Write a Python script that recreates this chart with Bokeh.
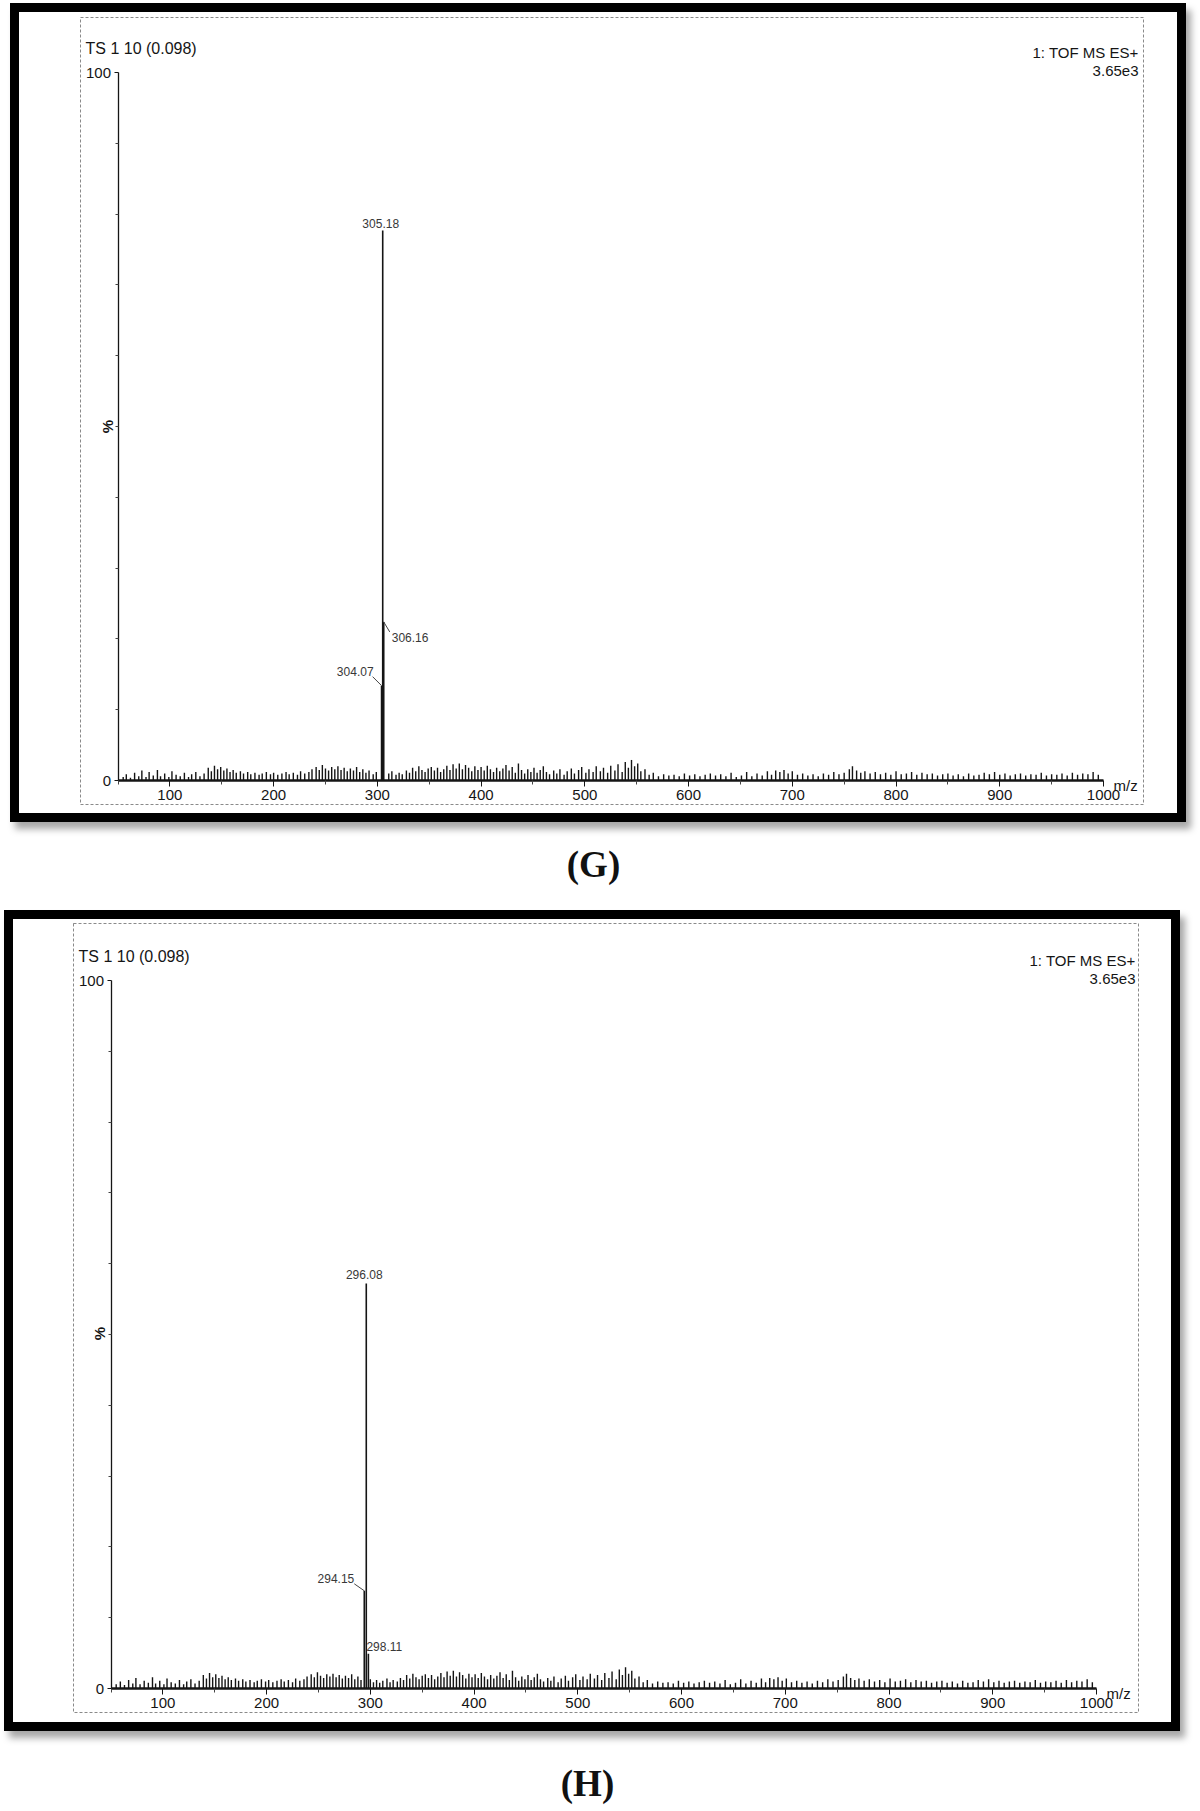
import math
from bokeh.plotting import figure
from bokeh.models import Range1d, FixedTicker, Label, Spacer
from bokeh.layouts import column, row
from bokeh.embed import file_html
from bokeh.resources import INLINE

# ---------------- data ----------------
ticks_x = [100, 200, 300, 400, 500, 600, 700, 800, 900, 1000]
minor_x = [50, 150, 250, 350, 450, 550, 650, 750, 850, 950]
ticks_y = [0, 100]
minor_y = [10, 20, 30, 40, 50, 60, 70, 80, 90]
x_bounds = (50, 1000)
y_bounds = (0, 100)

header_left = "TS 1 10 (0.098)"
header_right_1 = "1: TOF MS ES+"
header_right_2 = "3.65e3"
x_title = "m/z"
y_title = "%"

g_peak_mz = [304.07, 305.18, 306.16]
g_peak_int = [13.4, 77.7, 22.4]
g_peak_lab = ["304.07", "305.18", "306.16"]

h_peak_mz = [294.15, 296.08, 298.11]
h_peak_int = [13.8, 57.2, 4.9]
h_peak_lab = ["294.15", "296.08", "298.11"]

g_noise = [
    (55, 0.5), (58, 0.9), (62, 0.4), (66, 1.1), (70, 0.6), (73, 1.4), (77, 0.5), (80, 1.2),
    (84, 0.7), (88, 1.5), (91, 0.6), (95, 1.0), (99, 0.5), (102, 1.3), (106, 0.8), (110, 0.6),
    (114, 1.1), (118, 0.5), (121, 0.9), (125, 1.2), (129, 0.6), (133, 1.0), (137, 1.8), (140, 1.3),
    (143, 2.1), (146, 1.6), (149, 1.9), (152, 1.4), (155, 1.7), (158, 1.2), (161, 1.5), (164, 1.1),
    (168, 1.3), (171, 1.0), (175, 1.2), (178, 0.9), (182, 1.1), (186, 0.8), (189, 1.0), (193, 1.2),
    (197, 0.9), (200, 1.1), (204, 0.8), (208, 1.0), (212, 1.2), (215, 0.9), (219, 1.1), (223, 0.8),
    (226, 1.3), (230, 1.0), (234, 1.2), (237, 1.6), (241, 1.9), (244, 1.5), (247, 2.2), (250, 1.7),
    (253, 1.4), (256, 1.9), (259, 1.6), (262, 2.0), (265, 1.5), (268, 1.8), (271, 1.3), (274, 1.7),
    (277, 1.4), (280, 1.9), (283, 1.2), (286, 1.6), (289, 1.1), (292, 1.4), (296, 0.9), (299, 1.2),
    (311, 1.0), (314, 1.3), (318, 0.8), (321, 1.1), (324, 0.9), (328, 1.4), (331, 1.1), (334, 1.8),
    (337, 1.3), (340, 2.0), (343, 1.5), (346, 1.2), (349, 1.7), (352, 1.9), (355, 1.4), (358, 1.8),
    (361, 1.2), (364, 1.6), (367, 2.1), (370, 1.5), (373, 2.3), (376, 1.7), (379, 2.4), (382, 1.6),
    (385, 2.2), (388, 1.8), (391, 1.3), (394, 2.0), (397, 1.5), (400, 1.9), (403, 1.4), (406, 2.1),
    (409, 1.6), (412, 1.2), (415, 1.8), (418, 1.3), (421, 1.7), (424, 2.2), (427, 1.4), (430, 1.9),
    (433, 1.1), (436, 2.4), (439, 1.5), (442, 1.0), (445, 1.6), (448, 1.2), (451, 1.8), (454, 1.1),
    (457, 1.5), (460, 2.0), (463, 1.2), (466, 0.9), (470, 1.4), (473, 1.0), (476, 1.6), (480, 0.8),
    (483, 1.3), (487, 1.7), (490, 1.0), (494, 1.5), (497, 1.9), (501, 1.1), (504, 1.6), (508, 1.2),
    (511, 2.0), (515, 1.3), (518, 1.8), (522, 1.1), (525, 2.1), (529, 1.4), (532, 2.3), (536, 1.2),
    (539, 2.6), (542, 1.8), (545, 2.9), (548, 2.0), (551, 2.4), (554, 1.3), (558, 1.6), (562, 0.8),
    (566, 1.1), (571, 0.6), (576, 0.9), (581, 0.7), (586, 0.8), (591, 0.6), (596, 1.0), (601, 0.7),
    (606, 0.9), (611, 0.6), (616, 0.8), (621, 1.0), (626, 0.7), (631, 0.9), (636, 0.6), (641, 1.1),
    (646, 0.5), (651, 0.7), (656, 1.2), (661, 0.6), (666, 1.0), (671, 0.7), (676, 1.3), (680, 0.8),
    (684, 1.4), (688, 1.2), (692, 1.5), (696, 1.0), (700, 1.3), (705, 0.8), (710, 1.0), (715, 0.7),
    (720, 0.9), (725, 0.6), (730, 1.0), (735, 0.8), (740, 1.2), (745, 0.9), (750, 1.1), (755, 1.6),
    (758, 2.0), (762, 1.4), (766, 1.1), (770, 1.3), (775, 1.0), (780, 1.2), (785, 0.9), (790, 1.1),
    (795, 0.8), (800, 1.3), (805, 0.9), (810, 1.0), (815, 1.2), (820, 0.8), (825, 1.1), (830, 0.9),
    (835, 1.0), (840, 0.7), (845, 0.9), (850, 1.0), (855, 0.7), (860, 0.9), (865, 0.6), (870, 1.0),
    (875, 0.7), (880, 0.8), (885, 1.1), (890, 0.9), (895, 1.2), (900, 0.8), (905, 1.0), (910, 0.7),
    (915, 0.9), (920, 1.0), (925, 0.7), (930, 0.9), (935, 0.8), (940, 1.1), (945, 0.7), (950, 0.9),
    (955, 0.8), (960, 1.0), (965, 0.7), (970, 1.1), (975, 0.8), (980, 1.0), (985, 0.9), (990, 1.2),
    (995, 0.8),
]

h_noise = [
    (55, 0.6), (59, 1.0), (63, 0.5), (67, 1.2), (71, 0.7), (74, 1.5), (78, 0.6), (82, 1.1),
    (86, 0.8), (90, 1.6), (93, 0.7), (97, 1.1), (101, 0.6), (104, 1.4), (108, 0.9), (112, 0.7),
    (116, 1.2), (120, 0.6), (123, 1.0), (127, 1.3), (131, 0.7), (135, 1.1), (139, 1.9), (142, 1.4),
    (145, 2.2), (148, 1.6), (151, 2.0), (154, 1.5), (157, 1.8), (160, 1.3), (163, 1.6), (166, 1.2),
    (170, 1.4), (173, 1.1), (177, 1.3), (180, 1.0), (184, 1.2), (188, 0.9), (191, 1.1), (195, 1.3),
    (199, 1.0), (202, 1.2), (206, 0.9), (210, 1.1), (214, 1.3), (217, 1.0), (221, 1.2), (225, 0.9),
    (228, 1.4), (232, 1.1), (236, 1.3), (239, 1.7), (243, 2.0), (246, 1.6), (249, 2.3), (252, 1.8),
    (255, 1.5), (258, 2.0), (261, 1.7), (264, 2.1), (267, 1.6), (270, 1.9), (273, 1.4), (276, 1.8),
    (279, 1.5), (282, 2.0), (285, 1.3), (288, 1.7), (291, 1.2), (300, 1.3), (303, 0.9), (306, 1.2),
    (309, 0.8), (312, 1.1), (316, 1.4), (319, 0.9), (322, 1.2), (326, 1.0), (329, 1.5), (332, 1.2),
    (335, 1.9), (338, 1.4), (341, 2.1), (344, 1.6), (347, 1.3), (350, 1.8), (353, 2.0), (356, 1.5),
    (359, 1.9), (362, 1.3), (365, 1.7), (368, 2.2), (371, 1.6), (374, 2.4), (377, 1.8), (380, 2.5),
    (383, 1.7), (386, 2.3), (389, 1.9), (392, 1.4), (395, 2.1), (398, 1.6), (401, 2.0), (404, 1.5),
    (407, 2.2), (410, 1.7), (413, 1.3), (416, 1.9), (419, 1.4), (422, 1.8), (425, 2.3), (428, 1.5),
    (431, 2.0), (434, 1.2), (437, 2.5), (440, 1.6), (443, 1.1), (446, 1.7), (449, 1.3), (452, 1.9),
    (455, 1.2), (458, 1.6), (461, 2.1), (464, 1.3), (467, 1.0), (471, 1.5), (474, 1.1), (477, 1.7),
    (481, 0.9), (484, 1.4), (488, 1.8), (491, 1.1), (495, 1.6), (498, 2.0), (502, 1.2), (505, 1.7),
    (509, 1.3), (512, 2.1), (516, 1.4), (519, 1.9), (523, 1.2), (526, 2.2), (530, 1.5), (533, 2.4),
    (537, 1.3), (540, 2.7), (543, 1.9), (546, 3.0), (549, 2.1), (552, 2.5), (555, 1.4), (559, 1.7),
    (563, 0.9), (567, 1.2), (572, 0.7), (577, 1.0), (582, 0.8), (587, 0.9), (592, 0.7), (597, 1.1),
    (602, 0.8), (607, 1.0), (612, 0.7), (617, 0.9), (622, 1.1), (627, 0.8), (632, 1.0), (637, 0.7),
    (642, 1.2), (647, 0.6), (652, 0.8), (657, 1.3), (662, 0.7), (667, 1.1), (672, 0.8), (677, 1.4),
    (681, 0.9), (685, 1.5), (689, 1.3), (693, 1.6), (697, 1.1), (701, 1.4), (706, 0.9), (711, 1.1),
    (716, 0.8), (721, 1.0), (726, 0.7), (731, 1.1), (736, 0.9), (741, 1.3), (746, 1.0), (751, 1.2),
    (756, 1.7), (759, 2.1), (763, 1.5), (767, 1.2), (771, 1.4), (776, 1.1), (781, 1.3), (786, 1.0),
    (791, 1.2), (796, 0.9), (801, 1.4), (806, 1.0), (811, 1.1), (816, 1.3), (821, 0.9), (826, 1.2),
    (831, 1.0), (836, 1.1), (841, 0.8), (846, 1.0), (851, 1.1), (856, 0.8), (861, 1.0), (866, 0.7),
    (871, 1.1), (876, 0.8), (881, 0.9), (886, 1.2), (891, 1.0), (896, 1.3), (901, 0.9), (906, 1.1),
    (911, 0.8), (916, 1.0), (921, 1.1), (926, 0.8), (931, 1.0), (936, 0.9), (941, 1.2), (946, 0.8),
    (951, 1.0), (956, 0.9), (961, 1.1), (966, 0.8), (971, 1.2), (976, 0.9), (981, 1.1), (986, 1.0),
    (991, 1.3), (996, 0.9),
]

# ---------------- layout / styling (pixels) ----------------
SANS = "Liberation Sans"
SERIF = "Liberation Serif"
INK = "#151515"
LAB_INK = "#383838"

GEOM_G = dict(w=1158, h=801, frame=(61, 1124, 5, 792),
              xcal=(50, 98.5, 1000, 1084), ycal=(768, 60),
              ts=(66, 36), hdr_r=1119, hdr_y=(40, 58), pct=(88, 414), mz=(1094, 773))
GEOM_H = dict(w=1158, h=803, frame=(60, 1125, 4, 793),
              xcal=(50, 97.5, 1000, 1083), ycal=(769, 61),
              ts=(65, 37), hdr_r=1122, hdr_y=(41, 59), pct=(86, 414), mz=(1093, 774))

# label placement per peak: (kind, dx_px, dy_px, leader end offset)  dy positive = downward
LAB_G = {"304.07": ("left", -8, -14, (-9, -9)),
         "305.18": ("top", -2, -7, None),
         "306.16": ("right", 8, 16, (6, 10))}
LAB_H = {"294.15": ("left", -10, -12, (-10, -7)),
         "296.08": ("top", -2, -9, None),
         "298.11": ("right", -2, -7, None)}


def make_panel(geom, pk_mz, pk_int, pk_lab, lab_spec, noise):
    W, H = geom["w"], geom["h"]
    fl, fr, ft, fb = geom["frame"]
    mz_a, px_a, mz_b, px_b = geom["xcal"]
    py0, py100 = geom["ycal"]
    sx = (px_b - px_a) / (mz_b - mz_a)
    sy = (py0 - py100) / 100.0

    def X(px):
        return mz_a + (px - px_a) / sx

    def Y(py):
        return (py0 - py) / sy

    p = figure(width=W, height=H, x_range=Range1d(X(fl), X(fr)), y_range=Range1d(Y(fb), Y(ft)),
               toolbar_location=None, output_backend="svg", title=None,
               min_border_left=fl, min_border_right=W - fr,
               min_border_top=ft, min_border_bottom=H - fb)
    p.background_fill_color = "white"
    p.border_fill_color = "white"
    p.outline_line_color = "#8a8a8a"
    p.outline_line_dash = "3 2"
    p.outline_line_width = 1
    p.xgrid.visible = False
    p.ygrid.visible = False

    xa = p.xaxis[0]
    xa.fixed_location = 0
    xa.bounds = x_bounds
    xa.ticker = FixedTicker(ticks=ticks_x, minor_ticks=minor_x)
    xa.axis_line_width = 2.4
    xa.axis_line_color = INK
    xa.major_tick_in = 0
    xa.major_tick_out = 6
    xa.minor_tick_in = 0
    xa.minor_tick_out = 4
    xa.major_tick_line_color = INK
    xa.minor_tick_line_color = "#444444"
    xa.major_label_text_font = SANS
    xa.major_label_text_font_size = "15px"
    xa.major_label_text_color = INK
    xa.major_label_standoff = 3

    ya = p.yaxis[0]
    ya.fixed_location = 50
    ya.bounds = y_bounds
    ya.ticker = FixedTicker(ticks=ticks_y, minor_ticks=minor_y)
    ya.axis_line_width = 1.3
    ya.axis_line_color = INK
    ya.major_tick_in = 0
    ya.major_tick_out = 4
    ya.minor_tick_in = 0
    ya.minor_tick_out = 3
    ya.major_tick_line_color = INK
    ya.minor_tick_line_color = "#444444"
    ya.major_label_text_font = SANS
    ya.major_label_text_font_size = "15px"
    ya.major_label_text_color = INK
    ya.major_label_standoff = 3

    # baseline noise (sticks)
    nmz = [a for a, b in noise]
    nint = [b for a, b in noise]
    p.segment(x0=nmz, y0=[0] * len(nmz), x1=nmz, y1=nint, line_width=1.4, line_color="#141414")

    # peaks
    p.segment(x0=pk_mz, y0=[0] * len(pk_mz), x1=pk_mz, y1=pk_int, line_width=1.6, line_color=INK)

    # peak labels + leaders
    for mz, it, lab in zip(pk_mz, pk_int, pk_lab):
        kind, dx, dy, lead = lab_spec[lab]
        lx = mz + dx / sx
        ly = it - dy / sy
        if kind == "top":
            align = "center"
        elif kind == "left":
            align = "right"
        else:
            align = "left"
        p.add_layout(Label(x=lx, y=ly, text=lab, text_font=SANS, text_font_size="12px",
                           text_color=LAB_INK, text_align=align, text_baseline="middle"))
        if lead is not None:
            ex = mz + lead[0] / sx
            ey = it - lead[1] / sy
            p.segment(x0=[mz], y0=[it], x1=[ex], y1=[ey], line_width=1, line_color="#444444")

    # headers
    tx, ty = geom["ts"]
    p.add_layout(Label(x=X(tx), y=Y(ty), text=header_left, text_font=SANS, text_font_size="16px",
                       text_color=INK, text_align="left", text_baseline="middle"))
    hy1, hy2 = geom["hdr_y"]
    p.add_layout(Label(x=X(geom["hdr_r"]), y=Y(hy1), text=header_right_1, text_font=SANS,
                       text_font_size="15px", text_color=INK, text_align="right", text_baseline="middle"))
    p.add_layout(Label(x=X(geom["hdr_r"]), y=Y(hy2), text=header_right_2, text_font=SANS,
                       text_font_size="15px", text_color=INK, text_align="right", text_baseline="middle"))
    # axis titles
    qx, qy = geom["pct"]
    p.add_layout(Label(x=X(qx), y=Y(qy), text=y_title, text_font=SANS, text_font_size="15px",
                       text_font_style="bold", text_color=INK, angle=math.pi / 2,
                       text_align="center", text_baseline="middle"))
    mx, my = geom["mz"]
    p.add_layout(Label(x=X(mx), y=Y(my), text=x_title, text_font=SANS, text_font_size="15px",
                       text_color=INK, text_align="left", text_baseline="middle"))

    p.styles = {"box-shadow": "0 0 0 9px #000000, 5px 7px 7px 9px rgba(0,0,0,0.35)"}
    return p


def make_caption(text, w, h, cx, cy_from_bottom):
    c = figure(width=w, height=h, x_range=Range1d(0, w), y_range=Range1d(0, h),
               toolbar_location=None, output_backend="svg", title=None,
               x_axis_type=None, y_axis_type=None, min_border=0)
    c.xgrid.visible = False
    c.ygrid.visible = False
    c.outline_line_color = None
    c.background_fill_color = None
    c.border_fill_color = None
    c.add_layout(Label(x=cx, y=cy_from_bottom, text=text, text_font=SERIF, text_font_style="bold",
                       text_font_size="37px", text_color="#111111",
                       text_align="center", text_baseline="middle"))
    return c


# page is laid out from its top-left corner (the template sets no body margin)
pG = make_panel(GEOM_G, g_peak_mz, g_peak_int, g_peak_lab, LAB_G, g_noise)
capG = make_caption("(G)", 1190, 106, 593, 55)
pH = make_panel(GEOM_H, h_peak_mz, h_peak_int, h_peak_lab, LAB_H, h_noise)
capH = make_caption("(H)", 1190, 88, 587, 27)

layout = column(
    Spacer(width=10, height=12),
    row(Spacer(width=19, height=801), pG, spacing=0),
    capG,
    row(Spacer(width=13, height=803), pH, spacing=0),
    capH,
    spacing=0,
)
open("out.html", "w").write(file_html(layout, INLINE))
